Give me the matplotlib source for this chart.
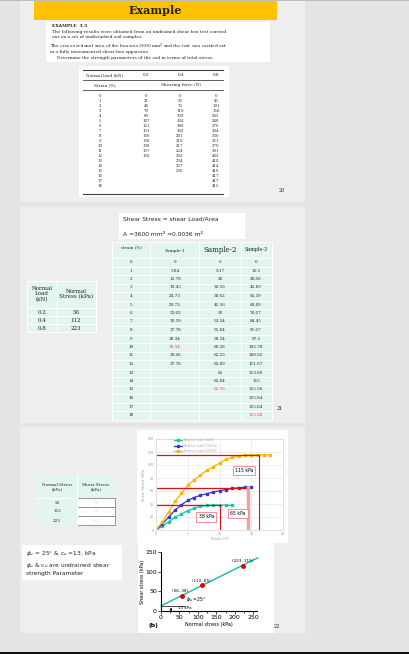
import numpy as np
import matplotlib.pyplot as plt
from matplotlib.patches import Rectangle

W, H = 409, 654

# ---- data ----
strain_pct = list(range(19))
force_02 = [0, 21, 46, 70, 89, 107, 121, 131, 136, 138, 138, 137, 136]
force_04 = [0, 33, 72, 110, 139, 164, 180, 192, 201, 210, 217, 224, 230, 234, 237, 236]
force_08 = [0, 45, 101, 158, 203, 248, 276, 304, 330, 351, 370, 391, 402, 410, 414, 416, 417, 417, 415]

stress_1 = [0, 5.84, 12.78, 19.45, 24.73, 29.73, 33.62, 36.39, 37.78, 38.34, 38.34, 38.06, 37.78]
stress_2 = [0, 9.17, 20, 30.56, 38.62, 45.56, 50, 53.34, 55.84, 58.34, 60.28, 62.23, 63.89, 65, 65.84, 65.56]
stress_3 = [0, 12.5, 28.06, 43.89, 56.39, 68.89, 76.67, 84.45, 91.67, 97.5, 102.78, 108.62,
            111.67, 113.89, 115, 115.56, 115.84, 115.84, 115.28]
peak_row = [10, 15, 18]

normal_load = ["0.2", "0.4", "0.8"]
normal_stress = [56, 112, 223]
peak_shear = [38, 65, 115]
phi_deg = 25
c_u = 13

fig = plt.figure(figsize=(W / 100, H / 100), dpi=100)
fig.patch.set_facecolor("#e4e4e4")
bg = fig.add_axes([0, 0, 1, 1])
bg.set_xlim(0, W)
bg.set_ylim(H, 0)
bg.axis("off")


def rect(x0, y0, x1, y1, fc, ec="none", lw=0.6, z=1):
    bg.add_patch(Rectangle((x0, y0), x1 - x0, y1 - y0, fc=fc, ec=ec, lw=lw, zorder=z))


def txt(x, y, s, size=3.5, ha="center", color="#222222", family="serif", **kw):
    bg.text(x, y, s, fontsize=size, ha=ha, va="center", color=color, family=family, zorder=5, **kw)


# slide backgrounds
for y0, y1 in [(0, 202), (207, 423), (427, 633)]:
    rect(20, y0, 305, y1, "#eeeeee")
rect(0, 0, W, 1, "#bdbdbd")
rect(0, 652, W, H, "#111111")

# ---- slide 1 ----
rect(34, 1, 277, 20, "#ffc000")
txt(155, 11, "Example", size=8, weight="bold")
rect(46, 22, 270, 62, "white")
txt(52, 26, "EXAMPLE  3.3", size=3.2, ha="left", weight="bold")
txt(52, 31.5, "The following results were obtained from an undrained shear box test carried", size=3.2, ha="left")
txt(52, 37, "out on a set of undisturbed soil samples:", size=3.2, ha="left")
txt(50, 46.5, "The cross-sectional area of the box was 3600 mm$^2$ and the test was carried out", size=3.2, ha="left")
txt(50, 52, "in a fully instrumented shear box apparatus.", size=3.2, ha="left")
txt(57, 57.5, "Determine the strength parameters of the soil in terms of total stress.", size=3.2, ha="left")

rect(79, 66, 229, 197, "white")
for yy, lw in [(70, 0.8), (80, 0.6), (90, 0.6), (194, 0.8)]:
    bg.plot([83, 223], [yy, yy], color="#444444", lw=lw, zorder=4)
txt(105, 75, "Normal load (kN)", size=3)
for x, s in zip([146, 181, 216], normal_load):
    txt(x, 75, s, size=3)
txt(105, 85, "Strain (%)", size=3)
txt(181, 85, "Shearing force (N)", size=3)
for i in strain_pct:
    yy = 96 + i * 5.0
    txt(100, yy, str(i), size=2.8)
    for x, col in zip([146, 180, 216], [force_02, force_04, force_08]):
        if i < len(col):
            txt(x, yy, str(col[i]), size=2.8)
txt(282, 190, "20", size=3.5)

# ---- slide 2 ----
rect(119, 213, 245, 239, "white")
txt(123, 219, "Shear Stress = shear Load/Area", size=4.3, ha="left", family="DejaVu Sans")
txt(123, 234, "A =3600 mm² =0.0036 m²", size=4.3, ha="left", family="DejaVu Sans")

tx = [112, 150, 199, 241, 272]
rect(112, 242, 272, 420, "#e3f5ee")
row_y = [242, 258] + [258 + 8.5 * (k + 1) for k in range(19)]
for xx in tx:
    bg.plot([xx, xx], [242, 420], color="white", lw=0.8, zorder=3)
for yy in row_y:
    bg.plot([112, 272], [yy, yy], color="white", lw=0.8, zorder=3)
txt(131, 247, "strain (%)", size=3)
txt(175, 251, "Sample-1", size=3.2)
txt(220, 250, "Sample-2", size=5)
txt(256, 250, "Sample-3", size=3.5)
for i in strain_pct:
    yy = 262 + 8.5 * i
    txt(131, yy, str(i), size=3)
    for k, (x, col) in enumerate(zip([175, 220, 256], [stress_1, stress_2, stress_3])):
        if i < len(col):
            c = "#ff3333" if i == peak_row[k] else "#222222"
            txt(x, yy, f"{col[i]:g}", size=3, color=c)
txt(280, 409, "21", size=3.5)

# left table slide 2
rect(27, 281, 96, 332, "#e3f5ee")
for xx in [27, 57, 96]:
    bg.plot([xx, xx], [281, 332], color="white", lw=0.8, zorder=3)
for yy in [281, 308, 316, 324, 332]:
    bg.plot([27, 96], [yy, yy], color="white", lw=0.8, zorder=3)
txt(42, 294, "Normal\nLoad\n(kN)", size=4, linespacing=1.1)
txt(76, 294, "Normal\nStress (kPa)", size=4, linespacing=1.1)
for j in range(3):
    txt(42, 312 + 8 * j, normal_load[j], size=4)
    txt(76, 312 + 8 * j, str(normal_stress[j]), size=4)

# ---- slide 3 ----
rect(137, 430, 288, 543, "white")
rect(138, 543, 274, 633, "white")
rect(22, 545, 122, 580, "white")
rect(36, 475, 115, 525, "#e3f5ee")
bg.plot([77, 77], [475, 525], color="white", lw=0.8, zorder=3)
bg.plot([36, 77], [498, 498], color="white", lw=0.8, zorder=3)
for j in range(3):
    rect(77, 498 + 9 * j, 115, 507 + 9 * j, "white", ec="#888888", lw=0.6, z=2)
    txt(57, 502.5 + 9 * j, str(normal_stress[j]), size=3)
    txt(96, 502.5 + 9 * j, str(peak_shear[j]), size=3, color="#dddddd")
txt(57, 487, "Normal Stress\n(kPa)", size=3)
txt(96, 487, "Shear Stress\n(kPa)", size=3)
txt(26, 553, rf"$\phi_u$ = {phi_deg}° & c$_u$ ={c_u}. kPa", size=4.2, ha="left", family="DejaVu Sans")
txt(26, 566, r"$\phi_u$ & c$_u$ are undrained shear", size=4.2, ha="left", family="DejaVu Sans")
txt(26, 573, "strength Parameter", size=4.2, ha="left", family="DejaVu Sans")
txt(277, 627, "22", size=3.5)


def fax(x0, y0, x1, y1):
    return fig.add_axes([x0 / W, 1 - y1 / H, (x1 - x0) / W, (y1 - y0) / H])


# chart 1: stress-strain curves
ax1 = fax(156, 439, 283, 530)
cols = ["#19c9a0", "#3636c8", "#ffb400"]
labels = ["Normal Load 56kPa", "Normal Load (112kPa)", "Normal Load (223kPa)"]
for s, c, lab in zip([stress_1, stress_2, stress_3], cols, labels):
    ax1.plot(strain_pct[:len(s)], s, "-s", color=c, ms=1.6, lw=0.9, label=lab)
ends = [10, 14.5, 16.2]
for pk, e in zip(peak_shear, ends):
    ax1.plot([0, e], [pk, pk], color="#e01010", lw=0.9)
ax1.plot([10, 10], [0, 38], color="#e01010", lw=0.8)
ax1.plot([14.5, 14.5], [0, 65], color="#f5a0a0", lw=2.5)
ax1.plot([16.2, 16.2], [0, 115], color="#e01010", lw=0.8)
for x, y, s in [(7.9, 20, "38 kPa"), (12.9, 26, "65 kPa"), (13.9, 91, "115 kPa")]:
    ax1.text(x, y, s, fontsize=3.3, ha="center", va="center", family="DejaVu Sans",
             bbox=dict(fc="white", ec="#f08080", lw=0.6, pad=1.5))
ax1.set_xlim(0, 20)
ax1.set_ylim(0, 140)
ax1.set_xticks(range(0, 21, 5))
ax1.set_yticks(range(0, 141, 20))
ax1.grid(color="#e8e8e8", lw=0.5)
ax1.tick_params(labelsize=2.3, length=0, colors="#999999", pad=1.5)
for sp in ax1.spines.values():
    sp.set_color("#e0e0e0")
ax1.set_xlabel("Strain (%)", fontsize=2.5, color="#999999", labelpad=1)
ax1.set_ylabel("Shear Stress (kPa)", fontsize=2.5, color="#999999", labelpad=1)
ax1.legend(loc="upper left", fontsize=2.2, frameon=False, bbox_to_anchor=(0.12, 1.04),
           labelcolor="#aaaaaa", handlelength=2.5)

# chart 2: failure envelope
ax2 = fax(161, 552, 257, 611)
xs = np.array([0, 262])
ax2.plot(xs, c_u + np.tan(np.radians(phi_deg)) * xs, color="#10c0a0", lw=1.0, clip_on=False)
ax2.plot(normal_stress, peak_shear, "o", color="#e00000", ms=2.5, clip_on=False, zorder=4)
for x, y in zip(normal_stress, peak_shear):
    ax2.text(x - 3, y + 10, f"({x}, {y})", fontsize=3, ha="center", family="DejaVu Sans")
ax2.plot([0, 65], [c_u, c_u], color="black", lw=0.5)
ax2.annotate("", xy=(27, 0), xytext=(27, c_u), arrowprops=dict(arrowstyle="<->", lw=0.6, mutation_scale=3))
ax2.text(45, 5, f"{c_u} kPa", fontsize=3, family="DejaVu Sans")
ax2.text(67, 26, r"$\phi_u$ =25°", fontsize=3.3, family="DejaVu Sans")
ax2.set_xlim(0, 260)
ax2.set_ylim(0, 150)
ax2.set_xticks(range(0, 251, 50))
ax2.set_yticks([0, 50, 100, 150])
ax2.set_xticks(range(0, 261, 25), minor=True)
ax2.tick_params(labelsize=4.5, length=2, width=0.5, pad=1)
ax2.tick_params(which="minor", length=1.5, width=0.5)
for s in ["top", "right"]:
    ax2.spines[s].set_visible(False)
for s in ["left", "bottom"]:
    ax2.spines[s].set_linewidth(0.8)
ax2.set_xlabel("Normal stress (kPa)", fontsize=3.5, labelpad=1)
ax2.set_ylabel("Shear stress (kPa)", fontsize=3.5, labelpad=0)
ax2.text(-0.13, -0.24, "(b)", transform=ax2.transAxes, fontsize=4.5, family="DejaVu Sans",
         va="center", weight="bold")

fig.savefig("out.png", dpi=100)
